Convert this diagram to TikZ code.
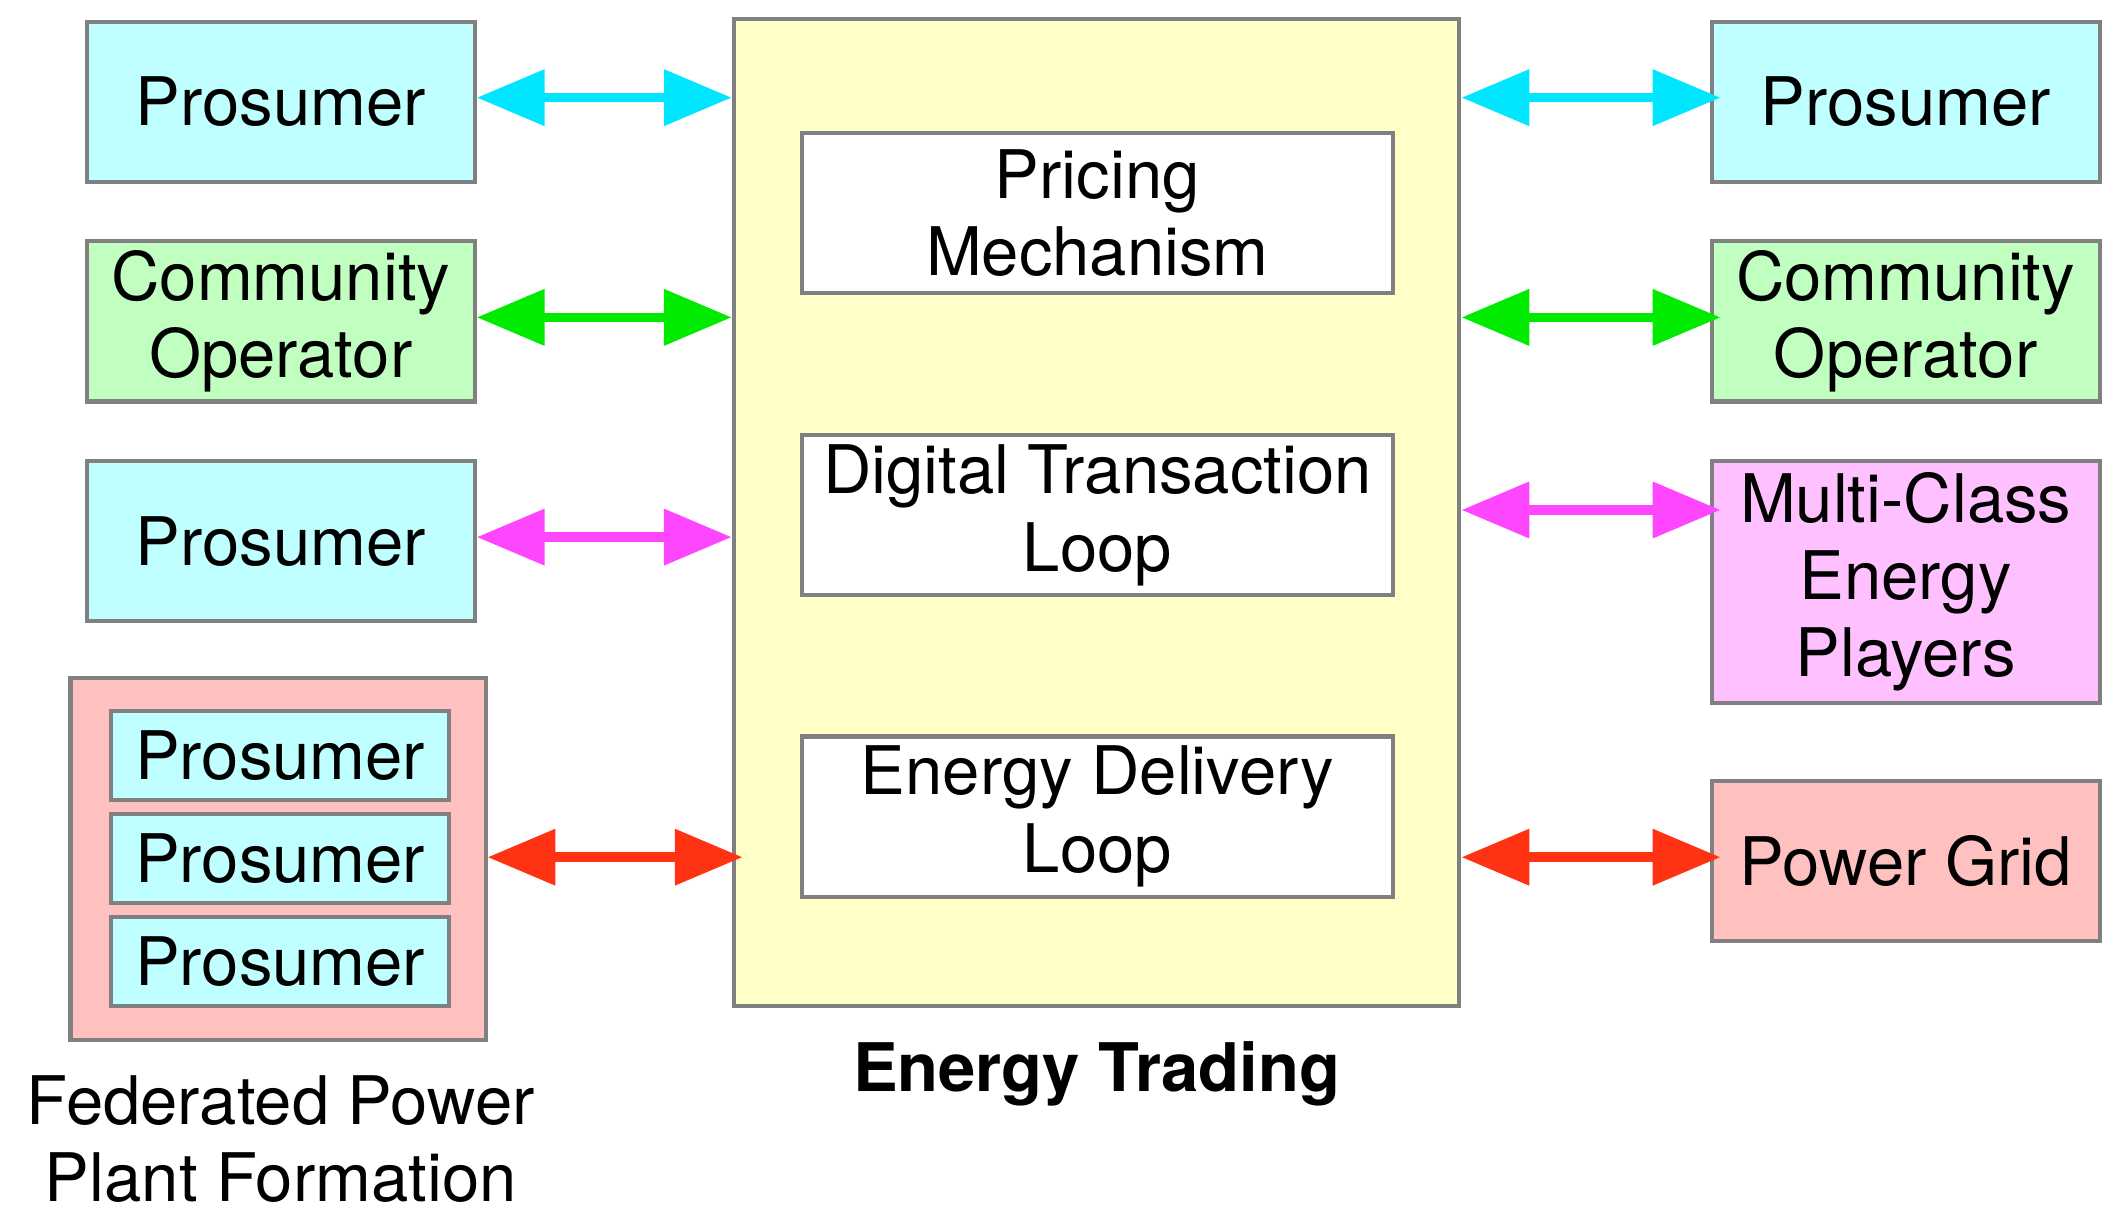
\documentclass[tikz,border=0pt]{standalone}
\usepackage{fontspec}
\setmainfont{TeX Gyre Heros}
\usetikzlibrary{arrows.meta}
\definecolor{cyanA}{RGB}{0,230,255}
\definecolor{greenA}{RGB}{0,235,0}
\definecolor{magA}{RGB}{255,70,255}
\definecolor{redA}{RGB}{255,50,20}
\definecolor{cyanF}{RGB}{192,255,255}
\definecolor{greenF}{RGB}{192,255,192}
\definecolor{pinkF}{RGB}{255,192,255}
\definecolor{salF}{RGB}{255,192,192}
\definecolor{yelF}{RGB}{255,255,200}
\definecolor{bord}{RGB}{128,128,128}
\begin{document}
\begin{tikzpicture}[x=0.5pt,y=-0.5pt,
  box/.style={draw=bord,line width=1.5pt,inner sep=0pt,align=center,font=\fontsize{24.7}{28.5}\selectfont},
  arr/.style={line width=3.5pt,{Triangle[length=25pt,width=20pt]}-{Triangle[length=25pt,width=20pt]}}]
\useasboundingbox (0,0) rectangle (1566,904);
\newcommand\bx[7]{\node[box,fill=#2,minimum width=#5*0.5pt,minimum height=#6*0.5pt] (#1) at (#3,#4) {#7};}
% center
\bx{ET}{yelF}{808.5}{378}{535}{728}{}
\bx{PM}{white}{809}{157}{436}{118}{Pricing\\Mechanism}
\bx{DT}{white}{809}{380}{436}{118}{Digital Transaction\\Loop}
\bx{ED}{white}{809}{602}{436}{118}{Energy Delivery\\Loop}
\node[font=\bfseries\fontsize{24.7}{28.5}\selectfont] (ETl) at (808.5,792) {Energy Trading};
% left
\bx{L1}{cyanF}{207}{75}{286}{118}{Prosumer}
\bx{L2}{greenF}{207}{237}{286}{118}{Community\\Operator}
\bx{L3}{cyanF}{207}{399}{286}{118}{Prosumer}
\bx{FP}{salF}{205}{633.5}{306}{267}{}
\bx{F1}{cyanF}{206.5}{557}{249}{66}{Prosumer}
\bx{F2}{cyanF}{206.5}{633}{249}{66}{Prosumer}
\bx{F3}{cyanF}{206.5}{709}{249}{66}{Prosumer}
\node[align=center,font=\fontsize{24.7}{28.5}\selectfont] (FPl) at (207,840) {Federated Power\\Plant Formation};
% right
\bx{R1}{cyanF}{1405}{75}{286}{118}{Prosumer}
\bx{R2}{greenF}{1405}{237}{286}{118}{Community\\Operator}
\bx{R3}{pinkF}{1405}{429}{286}{178}{Multi-Class\\Energy\\Players}
\bx{R4}{salF}{1405}{635}{286}{118}{Power Grid}
% arrows
\coordinate (a1) at (ET.west |- 0,72);
\coordinate (a2) at (ET.west |- 0,234);
\coordinate (a3) at (ET.west |- 0,396);
\coordinate (a4) at ([xshift=4pt]ET.west |- 0,632);
\coordinate (b1) at (ET.east |- 0,72);
\coordinate (b2) at (ET.east |- 0,234);
\coordinate (b3) at (ET.east |- 0,376);
\coordinate (b4) at (ET.east |- 0,632);
\draw[arr,cyanA] (L1.east |- a1) -- (a1);
\draw[arr,greenA] (L2.east |- a2) -- (a2);
\draw[arr,magA] (L3.east |- a3) -- (a3);
\draw[arr,redA] (FP.east |- a4) -- (a4);
\draw[arr,cyanA] (b1) -- ([xshift=4pt]R1.west |- b1);
\draw[arr,greenA] (b2) -- ([xshift=4pt]R2.west |- b2);
\draw[arr,magA] (b3) -- ([xshift=4pt]R3.west |- b3);
\draw[arr,redA] (b4) -- ([xshift=4pt]R4.west |- b4);
\end{tikzpicture}
\end{document}
